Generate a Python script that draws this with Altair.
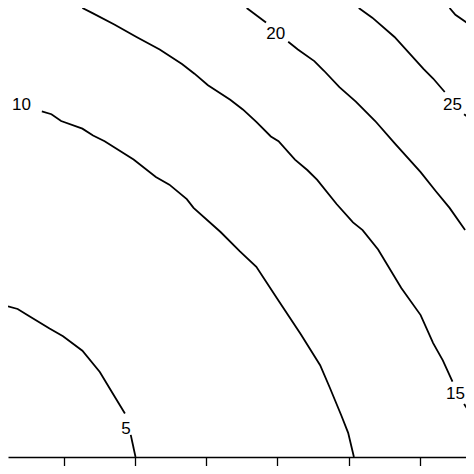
import altair as alt
import pandas as pd

# contour lines, split where a label breaks the line
line5_x = [0.212, 0.348, 0.484, 0.796, 0.986, 1.258, 1.503, 1.666, 1.856]
line5_y = [2.120, 2.083, 1.997, 1.807, 1.698, 1.495, 1.196, 0.924, 0.611]
line5b_x = [1.938, 2.005]
line5b_y = [0.312, 0.0]

line10_x = [0.688, 0.823, 0.959, 1.258, 1.408, 1.571, 1.978, 2.291, 2.481, 2.726, 2.821,
            3.201, 3.473, 3.704, 3.989, 4.329, 4.601, 4.736, 4.899, 4.995, 5.076]
line10_y = [4.864, 4.823, 4.728, 4.620, 4.524, 4.443, 4.185, 3.940, 3.832, 3.628, 3.505,
            3.166, 2.894, 2.677, 2.242, 1.726, 1.291, 0.978, 0.584, 0.340, 0.0]

line15_x = [1.258, 1.394, 1.707, 2.019, 2.345, 2.658, 2.834, 3.024, 3.337, 3.514, 3.704,
            3.908, 4.016, 4.247, 4.424, 4.560, 4.832, 5.063, 5.198, 5.416, 5.742, 6.014,
            6.190, 6.326, 6.462]
line15_y = [6.318, 6.250, 6.087, 5.910, 5.734, 5.530, 5.394, 5.231, 5.027, 4.891, 4.715,
            4.511, 4.443, 4.185, 4.035, 3.899, 3.560, 3.302, 3.193, 2.921, 2.378, 1.997,
            1.603, 1.359, 1.060]
line15b_x = [6.625, 6.679]
line15b_y = [0.747, 0.666]

line20_x = [3.568, 3.840]
line20_y = [6.318, 6.114]
line20b_x = [4.152, 4.288, 4.519, 4.655, 4.872, 5.103, 5.375, 5.647, 6.014, 6.231, 6.421, 6.639]
line20b_y = [5.842, 5.734, 5.571, 5.435, 5.204, 5.000, 4.728, 4.416, 4.008, 3.736, 3.505, 3.193]

line25_x = [5.144, 5.334, 5.647, 6.054, 6.190, 6.353]
line25_y = [6.318, 6.182, 5.910, 5.462, 5.326, 5.136]
line25b_x = [6.625, 6.679]
line25b_y = [4.823, 4.783]

line30_x = [6.421, 6.503, 6.679]
line30_y = [6.318, 6.223, 6.100]

label_text = ["5", "10", "15", "20", "25"]
label_x = [1.870, 0.402, 6.503, 3.976, 6.462]
label_y = [0.394, 4.959, 0.883, 5.951, 4.959]

tick_values = [1, 2, 3, 4, 5, 6]

segments = [
    ("5a", line5_x, line5_y), ("5b", line5b_x, line5b_y),
    ("10", line10_x, line10_y),
    ("15a", line15_x, line15_y), ("15b", line15b_x, line15b_y),
    ("20a", line20_x, line20_y), ("20b", line20b_x, line20b_y),
    ("25a", line25_x, line25_y), ("25b", line25b_x, line25b_y),
    ("30", line30_x, line30_y),
]
rows = []
for seg, xs, ys in segments:
    for i, (xv, yv) in enumerate(zip(xs, ys)):
        rows.append({"seg": seg, "i": i, "x": xv, "y": yv})
lines_df = pd.DataFrame(rows)
labels_df = pd.DataFrame({"t": label_text, "x": label_x, "y": label_y})

xscale = alt.Scale(domain=[0.212, 6.652], nice=False, zero=False)
yscale = alt.Scale(domain=[0, 6.318], nice=False, zero=False)

lines = alt.Chart(lines_df).mark_line(color="black", strokeWidth=1.8, clip=True).encode(
    x=alt.X("x:Q", scale=xscale,
            axis=alt.Axis(values=tick_values, labels=False, title=None, grid=False,
                          domainColor="black", domainWidth=1.3, tickColor="black",
                          tickWidth=1.3, tickSize=9)),
    y=alt.Y("y:Q", scale=yscale, axis=None),
    detail="seg:N",
    order="i:Q",
)

labels = alt.Chart(labels_df).mark_text(
    font="Liberation Sans", fontSize=17, color="black", align="center", baseline="middle"
).encode(
    x=alt.X("x:Q", scale=xscale),
    y=alt.Y("y:Q", scale=yscale),
    text="t:N",
)

chart = (lines + labels).properties(
    width=458, height=449,
    autosize=alt.AutoSizeParams(type="none"),
    padding={"left": 0, "top": 0, "right": 0, "bottom": 9},
).configure_view(stroke=None)

chart.save("out.html", embed_options={"renderer": "svg", "actions": False})
